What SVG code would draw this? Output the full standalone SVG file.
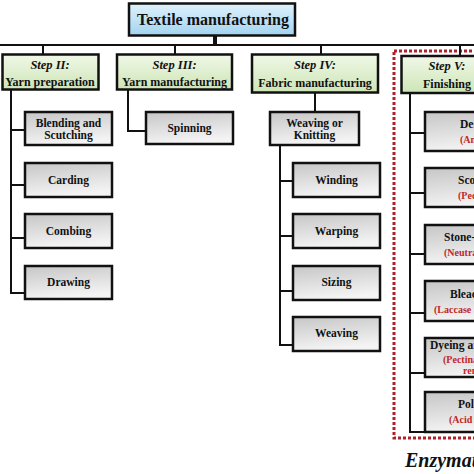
<svg xmlns="http://www.w3.org/2000/svg" width="474" height="474" viewBox="0 0 474 474">
<defs>
<linearGradient id="gBlue" x1="0" y1="0" x2="0" y2="1"><stop offset="0" stop-color="#dff1fb"/><stop offset="1" stop-color="#a3d4f0"/></linearGradient>
<linearGradient id="gGreen" x1="0" y1="0" x2="0" y2="1"><stop offset="0" stop-color="#f0f8e8"/><stop offset="1" stop-color="#cde5b6"/></linearGradient>
<linearGradient id="gGray" x1="0" y1="0" x2="0.25" y2="1"><stop offset="0" stop-color="#c6c6c6"/><stop offset="1" stop-color="#f4f4f4"/></linearGradient>
<style>
.top{fill:url(#gBlue);stroke:#111;stroke-width:2.5}
.step{fill:url(#gGreen);stroke:#111;stroke-width:2.5}
.sub{fill:url(#gGray);stroke:#111;stroke-width:2.5}
.ln{fill:none;stroke:#111;stroke-width:2}
.t{font-family:"Liberation Serif","Times New Roman",serif;font-weight:bold;fill:#111}
.tm{text-anchor:middle}
.big{font-size:16px}
.s{font-size:12px}
.si{font-size:12.5px;font-style:italic}
.c{font-size:11.5px}
.r{font-family:"Liberation Serif","Times New Roman",serif;font-weight:bold;font-size:10px;fill:#c0282a}
</style>
</defs>
<rect x="394" y="51" width="100" height="387" fill="none" stroke="#b0202a" stroke-width="3" stroke-dasharray="3 2"/>
<g id="connectors">
<line x1="215" y1="36" x2="215" y2="45" stroke="#111" stroke-width="4"/>
<line class="ln" x1="0" y1="45" x2="474" y2="45"/>
<line class="ln" x1="43" y1="45" x2="43" y2="54"/>
<line class="ln" x1="175" y1="45" x2="175" y2="54"/>
<line class="ln" x1="321" y1="45" x2="321" y2="54"/>
<line class="ln" x1="460" y1="45" x2="460" y2="56"/>
<path class="ln" d="M11 90V293H25M11 130H25M11 185H25M11 238H25"/>
<path class="ln" d="M128 90V131H146"/>
<line class="ln" x1="315" y1="93" x2="315" y2="112"/>
<path class="ln" d="M280 145V345H293M280 181H293M280 236H293M280 291H293"/>
<path class="ln" d="M410 93V432H425M410 133H425M410 193H425M410 254H425M410 313H425M410 373H425"/>
</g>
<g id="n-textile"><rect class="top" x="129" y="3.5" width="166" height="32"/><text class="t tm big" x="213" y="25">Textile manufacturing</text></g>
<g id="n-step2"><rect class="step" x="2.5" y="54.5" width="96" height="35"/><text class="t tm si" x="50" y="69">Step II:</text><text class="t tm s" x="50" y="86">Yarn preparation</text></g>
<g id="n-step3"><rect class="step" x="117" y="54.5" width="115" height="35"/><text class="t tm si" x="174.5" y="69">Step III:</text><text class="t tm s" x="174.5" y="86">Yarn manufacturing</text></g>
<g id="n-step4"><rect class="step" x="252" y="54.5" width="126" height="38"/><text class="t tm si" x="315" y="69">Step IV:</text><text class="t tm s" x="315" y="87">Fabric manufacturing</text></g>
<g id="n-step5"><rect class="step" x="401.5" y="56" width="100" height="37"/><text class="t tm si" x="447" y="70">Step V:</text><text class="t tm s" x="447" y="88">Finishing</text></g>
<g id="n-blending"><rect class="sub" x="25" y="112" width="87" height="33"/><text class="t tm c" x="68.5" y="127">Blending and</text><text class="t tm c" x="68.5" y="139">Scutching</text></g>
<g id="n-carding"><rect class="sub" x="25" y="163" width="87" height="34"/><text class="t tm c" x="68.5" y="184">Carding</text></g>
<g id="n-combing"><rect class="sub" x="25" y="214" width="87" height="34"/><text class="t tm c" x="68.5" y="235">Combing</text></g>
<g id="n-drawing"><rect class="sub" x="25" y="266" width="87" height="33"/><text class="t tm c" x="68.5" y="286">Drawing</text></g>
<g id="n-spinning"><rect class="sub" x="146" y="112" width="87" height="32"/><text class="t tm c" x="189.5" y="132">Spinning</text></g>
<g id="n-weaveknit"><rect class="sub" x="270" y="112" width="89" height="33"/><text class="t tm c" x="314.5" y="127">Weaving or</text><text class="t tm c" x="314.5" y="139">Knitting</text></g>
<g id="n-winding"><rect class="sub" x="293" y="163" width="87" height="34"/><text class="t tm c" x="336.5" y="184">Winding</text></g>
<g id="n-warping"><rect class="sub" x="293" y="214" width="87" height="34"/><text class="t tm c" x="336.5" y="235">Warping</text></g>
<g id="n-sizing"><rect class="sub" x="293" y="266" width="87" height="34"/><text class="t tm c" x="336.5" y="286">Sizing</text></g>
<g id="n-weaving"><rect class="sub" x="293" y="317" width="87" height="34"/><text class="t tm c" x="336.5" y="337">Weaving</text></g>
<g id="n-desizing"><rect class="sub" x="425" y="112" width="120" height="39"/><text class="t c" x="460" y="128">Desizing</text><text class="r" x="460" y="143">(Amylase)</text></g>
<g id="n-scouring"><rect class="sub" x="425" y="168" width="120" height="39"/><text class="t c" x="458" y="184">Scouring</text><text class="r" x="458" y="199">(Pectinase)</text></g>
<g id="n-stonewash"><rect class="sub" x="425" y="225" width="120" height="39"/><text class="t c" x="444" y="241">Stone-washing</text><text class="r" x="444" y="256">(Neutral cellulase)</text></g>
<g id="n-bleaching"><rect class="sub" x="425" y="281" width="120" height="40"/><text class="t c" x="450" y="298">Bleaching</text><text class="r" x="434" y="313">(Laccase and peroxidase)</text></g>
<g id="n-dyeing"><rect class="sub" x="425" y="338" width="120" height="39"/><text class="t c" x="430" y="349">Dyeing and finishing</text><text class="r" x="443" y="363">(Pectinase for wax</text><text class="r" x="463" y="374">removal)</text></g>
<g id="n-polishing"><rect class="sub" x="425" y="392" width="120" height="40"/><text class="t c" x="458" y="408">Polishing</text><text class="r" x="449" y="423">(Acid cellulase)</text></g>
<text x="405" y="467" font-family="Liberation Serif, Times New Roman, serif" font-weight="bold" font-style="italic" font-size="20" fill="#111">Enzymatic processing</text>
</svg>
